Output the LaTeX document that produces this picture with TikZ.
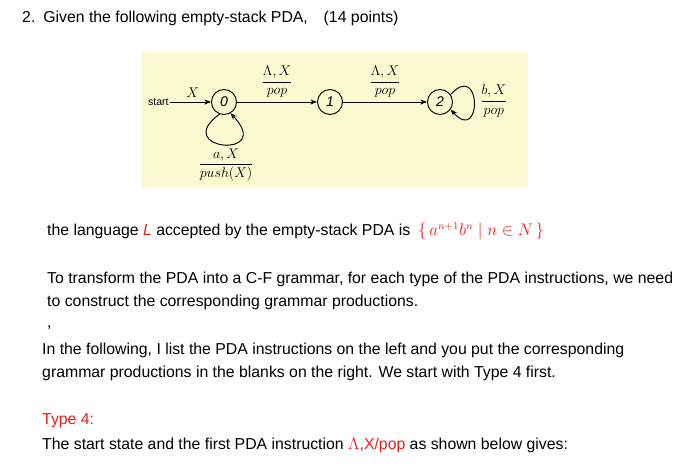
\documentclass[tikz,border=0pt]{standalone}
\usepackage{fontspec}
\setmainfont{Liberation Sans}
\usetikzlibrary{arrows.meta,positioning}
\definecolor{boxyellow}{RGB}{250,249,208}
\definecolor{txtred}{RGB}{230,30,30}
\tikzset{
  state/.style={circle,draw,thick,minimum size=7.5mm,inner sep=0pt,font=\large\itshape},
  trans/.style={->,>={Stealth[length=2mm]},thick},
  lab/.style={font=\fontsize{13}{15}\selectfont},
  line/.style={anchor=west,font=\fontsize{13.5}{15}\selectfont,inner sep=0pt}
}
\begin{document}
\begin{tikzpicture}[x=0.03cm,y=-0.03cm]
  \useasboundingbox (0,0) rectangle (690,476);
  \fill[boxyellow] (142,52) rectangle (528,188);
  % states
  \node[state] (q0) at (224,102) {0};
  \node[state] (q1) at (330,102) {1};
  \node[state] (q2) at (440,102) {2};
  \node[anchor=east,inner sep=1pt,font=\small] (start) at (170,102) {start};

  \draw[trans] (start) -- node[above,pos=0.55,lab]{$X$} (q0);
  \draw[trans] (q0) -- node[above,lab]{$\displaystyle\frac{\Lambda,X}{pop}$} (q1);
  \draw[trans] (q1) -- node[above,lab]{$\displaystyle\frac{\Lambda,X}{pop}$} (q2);
  \draw[trans] (q0.250) .. controls (170,150) and (275,160) .. (q0.300);
  \draw[trans] (q2.35) .. controls (482,60) and (482,145) .. (q2.325);
  \node[lab] (l0) at (226,165) {$\displaystyle\frac{a,X}{push(X)}$};
  \node[right,lab] (l2) at (476,101) {$\displaystyle\frac{b,X}{pop}$};

  % text
  \node[line] (t1) at (22,18) {2.\enspace Given the following empty-stack PDA,\quad (14 points)};
  \node[line] (t2) at (47,231) {the language \textcolor{txtred}{\textit{L}} accepted by the empty-stack PDA is\enspace \textcolor{txtred}{$\{\,a^{n+1}b^{n}\mid n\in N\,\}$}};
  \node[line] (t3) at (47,279) {To transform the PDA into a C-F grammar, for each type of the PDA instructions, we need};
  \node[line] (t4) at (47,302) {to construct the corresponding grammar productions.};
  \node[line] (t5) at (47,328) {,};
  \node[line] (t6) at (42,350) {In the following, I list the PDA instructions on the left and you put the corresponding};
  \node[line] (t7) at (42,373) {grammar productions in the blanks on the right. We start with Type 4 first.};
  \node[line,text=txtred] (t8) at (42,421) {Type 4:};
  \node[line] (t9) at (42,445) {The start state and the first PDA instruction \textcolor{txtred}{$\Lambda$,X/pop} as shown below gives:};
\end{tikzpicture}
\end{document}
